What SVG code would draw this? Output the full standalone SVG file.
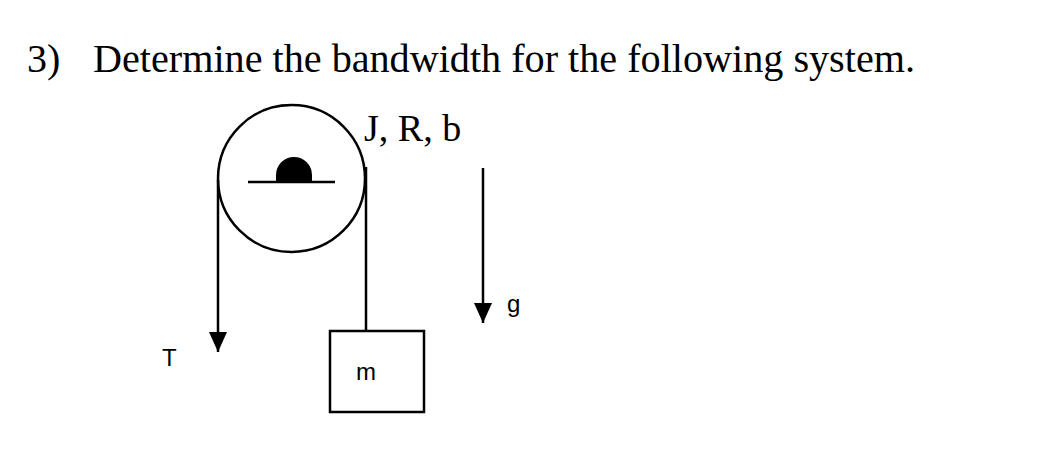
<svg xmlns="http://www.w3.org/2000/svg" width="1037" height="450" viewBox="0 0 1037 450">
<style>
.s{fill:none;stroke:#000;stroke-width:2.5}
.serif{font-family:"Liberation Serif",serif;fill:#000}
.sans{font-family:"Liberation Sans",sans-serif;fill:#000;font-size:24px}
</style>
<defs><marker id="ah" markerWidth="20" markerHeight="18" refX="20" refY="9" orient="auto" markerUnits="userSpaceOnUse"><path d="M0,0 L20,9 L0,18 Z" fill="#000"/></marker></defs>
<rect width="1037" height="450" fill="#fff"/>
<text class="serif" x="27" y="72" font-size="40">3)</text>
<text class="serif" x="93" y="72" font-size="40" textLength="822" lengthAdjust="spacingAndGlyphs">Determine the bandwidth for the following system.</text>
<g id="pulley">
<circle class="s" cx="291.5" cy="178.5" r="73.5"/>
<line class="s" x1="248" y1="182" x2="335" y2="182"/>
<path d="M276,182 L276,175 A18,18 0 0 1 312,175 L312,182 Z" fill="#000"/>
<text class="serif" x="364" y="141" font-size="38">J, R, b</text>
</g>
<g id="mass">
<rect class="s" x="330" y="331" width="94" height="81"/>
<text class="sans" x="356" y="380">m</text>
</g>
<g id="labels">
<text class="sans" x="162" y="366">T</text>
<text class="sans" x="507" y="312">g</text>
</g>
<g id="connectors">
<line class="s" x1="218" y1="180" x2="218" y2="352" marker-end="url(#ah)"/>
<line class="s" x1="366" y1="167" x2="366" y2="331"/>
<line class="s" x1="483" y1="168" x2="483" y2="323" marker-end="url(#ah)"/>
</g>
</svg>
